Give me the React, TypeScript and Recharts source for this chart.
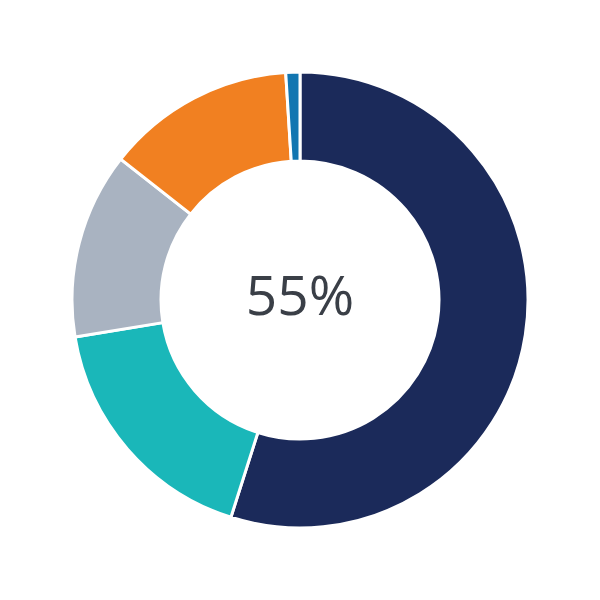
import { PieChart, Pie, Cell, Label } from 'recharts'

const segments = ['Navy', 'Teal', 'Gray', 'Orange', 'Blue']
const shares = [54.9, 17.5, 13.2, 13.4, 1]
const colors = ['#1b2a5a', '#1ab7b9', '#a9b3c1', '#f18021', '#1276b1']
const centerLabel = '55%'

const data = segments.map((name, i) => ({ name, value: shares[i] }))

export default function App() {
  return (
    <div style={{ position: 'fixed', left: 0, top: 0, width: 600, height: 600, background: '#fff' }}>
      <PieChart width={600} height={600} margin={{ top: 0, right: 0, bottom: 0, left: 0 }}>
        <Pie
          data={data}
          dataKey="value"
          nameKey="name"
          cx={300}
          cy={300}
          innerRadius={139}
          outerRadius={228}
          startAngle={90}
          endAngle={-270}
          stroke="#fff"
          strokeWidth={3}
          isAnimationActive={false}
        >
          {data.map((d, i) => <Cell key={d.name} fill={colors[i]} />)}
          <Label
            value={centerLabel}
            position="center"
            fill="#3a3f47"
            dy={-5}
            style={{ fontFamily: '"Open Sans", sans-serif', fontSize: 55 }}
          />
        </Pie>
      </PieChart>
    </div>
  )
}
